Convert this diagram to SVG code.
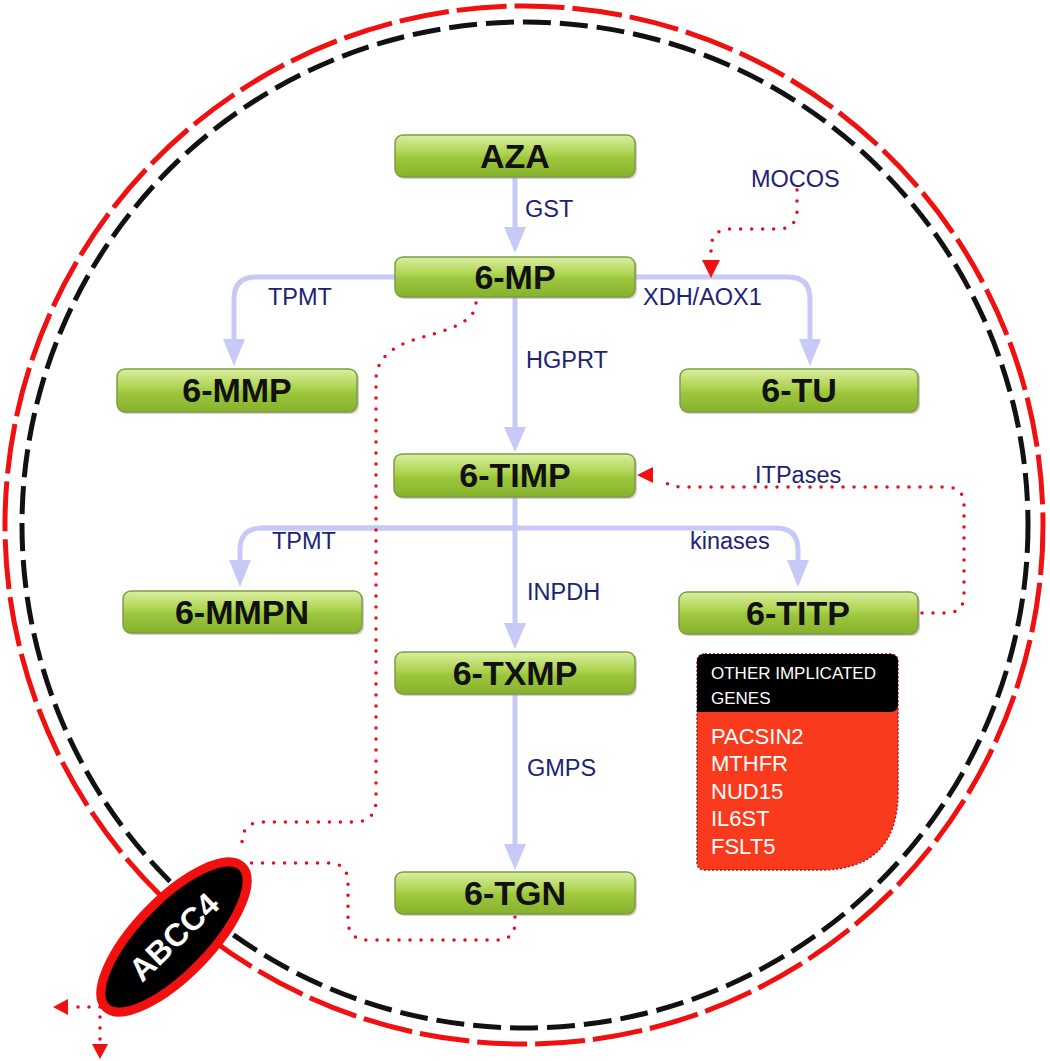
<svg xmlns="http://www.w3.org/2000/svg" width="1050" height="1061" viewBox="0 0 1050 1061">
<defs>
<linearGradient id="g" x1="0" y1="0" x2="0" y2="1">
<stop offset="0" stop-color="#d9efa0"/>
<stop offset="0.45" stop-color="#acd24e"/>
<stop offset="0.55" stop-color="#9cc63c"/>
<stop offset="1" stop-color="#86b22c"/>
</linearGradient>
<style>
.node rect.b{fill:url(#g);stroke:#7f9c45;stroke-width:1.5}
.node rect.s{fill:#9a9a9a;opacity:0.45}
.node text{font-family:"Liberation Sans",Arial,sans-serif;font-weight:bold;font-size:34px;fill:#111;text-anchor:middle}
.flow{fill:none;stroke:#c7c9f6;stroke-width:5}
.head{fill:#c7c9f6}
.dot{fill:none;stroke:#e3101c;stroke-width:3.5;stroke-dasharray:0 11;stroke-linecap:round}
.rhead{fill:#f01010}
.lbl{font-family:"Liberation Sans",Arial,sans-serif;font-size:23.5px;fill:#1d2275}
.gene{font-family:"Liberation Sans",Arial,sans-serif;fill:#fff}
</style>
</defs>
<rect width="1050" height="1061" fill="#fff"/>
<g id="membrane">
<circle cx="524" cy="525" r="519" fill="none" stroke="#f01010" stroke-width="5" stroke-dasharray="50 8"/>
<circle cx="525" cy="525" r="503" fill="none" stroke="#111" stroke-width="5" stroke-dasharray="28 9"/>
</g>
<g id="connectors">
<path class="flow" d="M515 178 V228"/>
<polygon class="head" points="504,227 526,227 515,253"/>
<path class="flow" d="M515 297 V428"/>
<polygon class="head" points="504,427 526,427 515,452"/>
<path class="flow" d="M515 497 V624"/>
<polygon class="head" points="504,623 526,623 515,649"/>
<path class="flow" d="M515 694 V845"/>
<polygon class="head" points="504,844 526,844 515,870"/>
<path class="flow" d="M395 277 H256 Q234 277 234 299 V340"/>
<polygon class="head" points="223,339 245,339 234,366"/>
<path class="flow" d="M635 277 H788 Q810 277 810 299 V340"/>
<polygon class="head" points="799,339 821,339 810,366"/>
<path class="flow" d="M262 528 H776 Q798 528 798 550 V561"/>
<path class="flow" d="M515 528 H262 Q240 528 240 550 V561"/>
<polygon class="head" points="229,560 251,560 240,587"/>
<polygon class="head" points="787,560 809,560 798,587"/>
<path class="dot" d="M797 190 V210 Q797 229 778 229 H731 Q711 229 711 249 V262"/>
<polygon class="rhead" points="702,260 720,260 711,278"/>
<path class="dot" d="M922 613 H946 Q964 613 964 595 V505 Q964 487 946 487 H682 Q668 487 660 478"/>
<polygon class="rhead" points="653,467 653,483 637,475"/>
<path class="dot" d="M476 303 C476 330 420 334 399 346 Q376 358 376 380 V800 Q376 822 354 822 H263 Q242 822 242 843 V849"/>
<path class="dot" d="M515 917 V922 Q515 940 497 940 H368 Q348 940 348 920 V883 Q348 863 328 863 H246"/>
<path class="dot" d="M100 1007 H68"/>
<polygon class="rhead" points="68,999 68,1015 53,1007"/>
<path class="dot" d="M100 1017 V1044"/>
<polygon class="rhead" points="92,1044 108,1044 100,1059"/>
</g>
<g id="labels">
<text class="lbl" x="525" y="217">GST</text>
<text class="lbl" x="751" y="187">MOCOS</text>
<text class="lbl" x="643" y="305">XDH/AOX1</text>
<text class="lbl" x="268" y="305">TPMT</text>
<text class="lbl" x="526" y="368">HGPRT</text>
<text class="lbl" x="755" y="483">ITPases</text>
<text class="lbl" x="272" y="549">TPMT</text>
<text class="lbl" x="690" y="549">kinases</text>
<text class="lbl" x="527" y="600">INPDH</text>
<text class="lbl" x="527" y="776">GMPS</text>
</g>
<g id="AZA" class="node"><rect class="s" x="397" y="137" width="240" height="42" rx="8"/><rect class="b" x="395" y="135" width="240" height="42" rx="8"/><text x="515" y="168">AZA</text></g>
<g id="n6-MP" class="node"><rect class="s" x="397" y="259" width="240" height="40" rx="8"/><rect class="b" x="395" y="257" width="240" height="40" rx="8"/><text x="515" y="289">6-MP</text></g>
<g id="n6-MMP" class="node"><rect class="s" x="119" y="371" width="240" height="43" rx="8"/><rect class="b" x="117" y="369" width="240" height="43" rx="8"/><text x="237" y="402">6-MMP</text></g>
<g id="n6-TU" class="node"><rect class="s" x="682" y="371" width="238" height="43" rx="8"/><rect class="b" x="680" y="369" width="238" height="43" rx="8"/><text x="799" y="402">6-TU</text></g>
<g id="n6-TIMP" class="node"><rect class="s" x="396" y="456" width="241" height="43" rx="8"/><rect class="b" x="394" y="454" width="241" height="43" rx="8"/><text x="515" y="487">6-TIMP</text></g>
<g id="n6-MMPN" class="node"><rect class="s" x="125" y="593" width="239" height="42" rx="8"/><rect class="b" x="123" y="591" width="239" height="42" rx="8"/><text x="242" y="624">6-MMPN</text></g>
<g id="n6-TITP" class="node"><rect class="s" x="681" y="594" width="239" height="42" rx="8"/><rect class="b" x="679" y="592" width="239" height="42" rx="8"/><text x="798" y="625">6-TITP</text></g>
<g id="n6-TXMP" class="node"><rect class="s" x="397" y="654" width="240" height="42" rx="8"/><rect class="b" x="395" y="652" width="240" height="42" rx="8"/><text x="515" y="685">6-TXMP</text></g>
<g id="n6-TGN" class="node"><rect class="s" x="397" y="874" width="240" height="42" rx="8"/><rect class="b" x="395" y="872" width="240" height="42" rx="8"/><text x="515" y="905">6-TGN</text></g>
<g id="ABCC4">
<ellipse cx="174" cy="937" rx="98" ry="37" transform="rotate(-46 174 937)" fill="#000" stroke="#f01010" stroke-width="9"/>
<text x="174" y="937" dy="11" transform="rotate(-44 174 937)" text-anchor="middle" font-family="Liberation Sans, Arial, sans-serif" font-weight="bold" font-size="32" fill="#fff">ABCC4</text>
</g>
<g id="genes">
<path d="M705 654 H890 Q898 654 898 662 V792 Q898 870 820 870 H705 Q697 870 697 862 V662 Q697 654 705 654 Z" fill="#fa3a1c" stroke="#b0101a" stroke-width="1.5" stroke-dasharray="2 2"/>
<path d="M697 712 V662 Q697 654 705 654 H890 Q898 654 898 662 V704 Q898 712 890 712 Z" fill="#000"/>
<text class="gene" x="711" y="679" font-size="17">OTHER IMPLICATED</text>
<text class="gene" x="711" y="704" font-size="17">GENES</text>
<text class="gene" x="711" y="744" font-size="22">PACSIN2</text>
<text class="gene" x="711" y="771" font-size="22">MTHFR</text>
<text class="gene" x="711" y="799" font-size="22">NUD15</text>
<text class="gene" x="711" y="826" font-size="22">IL6ST</text>
<text class="gene" x="711" y="854" font-size="22">FSLT5</text>
</g>
</svg>
